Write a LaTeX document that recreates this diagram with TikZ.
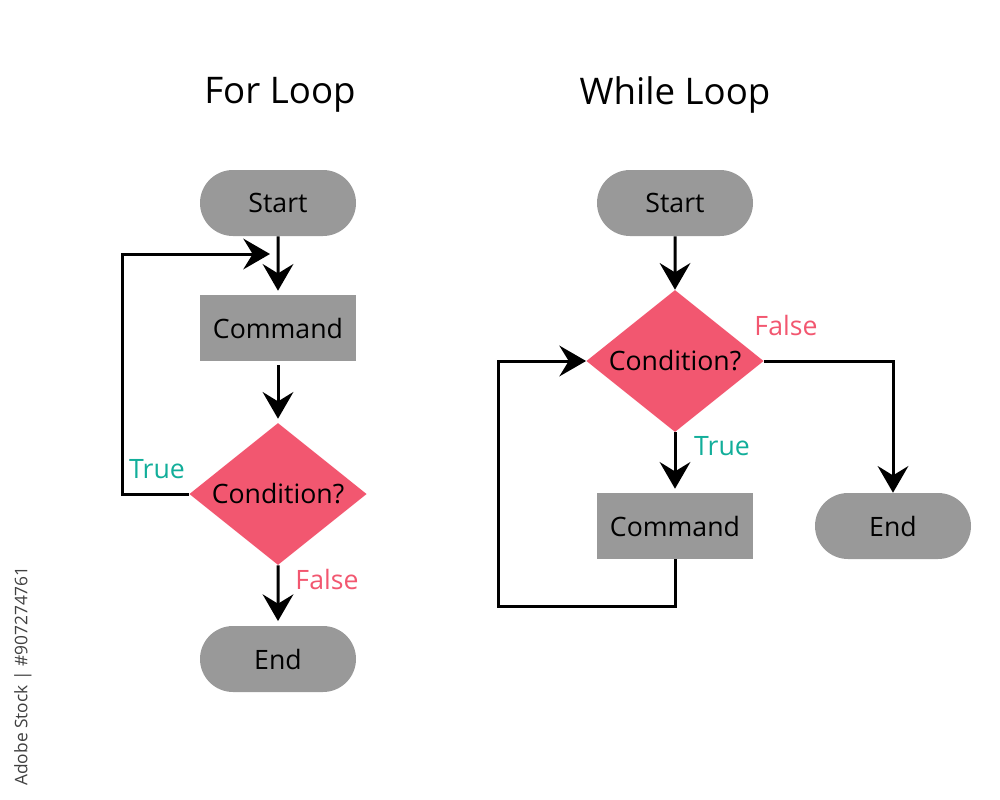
\documentclass[tikz,border=0pt]{standalone}
\usepackage{fontspec}
\setmainfont{Open Sans}
\usetikzlibrary{arrows.meta,shapes.geometric,shapes.misc,calc}
\definecolor{boxgrey}{HTML}{999999}
\definecolor{condred}{HTML}{F25770}
\definecolor{truegreen}{HTML}{12AE9A}
\definecolor{falsered}{HTML}{F25770}
\tikzset{
  x=0.75pt,y=-0.75pt,
  lbl/.style={font=\fontsize{20pt}{24pt}\selectfont,text=black},
  terminal/.style={lbl,draw=none,fill=boxgrey,rounded rectangle,minimum width=117pt,minimum height=49.5pt,inner sep=0pt},
  command/.style={lbl,draw=none,fill=boxgrey,minimum width=117pt,minimum height=49.5pt,inner sep=0pt},
  cond/.style={lbl,draw=none,fill=condred,diamond,aspect=1.25,minimum width=133pt,minimum height=106.5pt,inner sep=0pt},
  flow/.style={draw=black,line width=2.25pt,-{Stealth[length=20pt,width=23pt,inset=7pt]}},
  title/.style={font=\fontsize{27.5pt}{32pt}\selectfont,text=black},
  truelbl/.style={font=\fontsize{20pt}{24pt}\selectfont,text=truegreen},
  falselbl/.style={font=\fontsize{20pt}{24pt}\selectfont,text=falsered},
  stock/.style={font=\fontsize{13pt}{15pt}\selectfont,text=black!75,rotate=90}
}
\begin{document}
\begin{tikzpicture}
\useasboundingbox (0,0) rectangle (1000,800);
\node[title] (t1) at (280,95) {For Loop};
\node[title] (t2) at (675,95) {While Loop};
% For loop
\node[terminal] (s1) at (278,203) {Start};
\node[command] (c1) at (278,328) {Command};
\node[cond] (d1) at (278,494) {Condition?};
\node[terminal] (e1) at (278,659) {End};
\coordinate (j1) at (270,254);
\draw[flow,shorten >=3pt] (s1) -- (c1);
\draw[flow,shorten <=3pt,shorten >=3pt] (c1) -- (d1);
\draw[flow,shorten >=3.5pt] (d1) -- (e1);
\draw[flow] (d1.west) -- (122,494) -- (122,254) -- (j1);
\node[truelbl] (tr1) at (157,469) {True};
\node[falselbl] (fa1) at (327,579) {False};
% While loop
\node[terminal] (s2) at (675,203) {Start};
\node[cond] (d2) at (675,361) {Condition?};
\node[command] (c2) at (675,526) {Command};
\node[terminal] (e2) at (893,526) {End};
\draw[flow] (s2) -- (d2);
\draw[flow,shorten >=3pt] (d2) -- (c2);
\draw[flow] (c2.south) -- (675,606) -- (498,606) -- (498,361) -- (d2.west);
\draw[flow] (d2.east) -- (893,361) -- (e2.north);
\node[falselbl] (fa2) at (786,325) {False};
\node[truelbl] (tr2) at (722,446) {True};
\node[stock] (st) at (23,676) {Adobe Stock | \#907274761};
\end{tikzpicture}
\end{document}
